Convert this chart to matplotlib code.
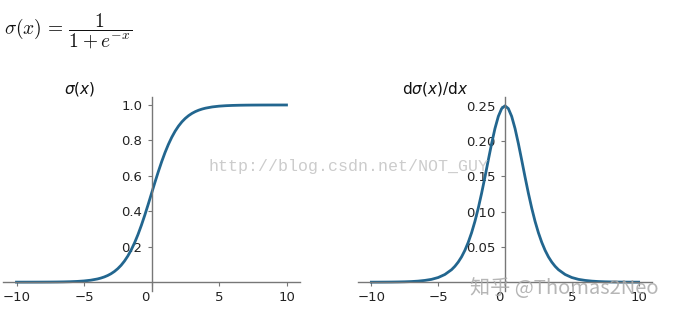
import matplotlib
matplotlib.use("Agg")
import matplotlib.pyplot as plt
from matplotlib.transforms import ScaledTranslation

# values
x_vals = [-10, -9.5, -9, -8.5, -8, -7.5, -7, -6.5, -6, -5.5, -5, -4.5,
          -4, -3.75, -3.5, -3.25, -3, -2.75, -2.5, -2.25, -2, -1.75, -1.5, -1.25,
          -1, -0.75, -0.5, -0.25, 0, 0.25, 0.5, 0.75, 1, 1.25, 1.5, 1.75,
          2, 2.25, 2.5, 2.75, 3, 3.25, 3.5, 3.75, 4,
          4.5, 5, 5.5, 6, 6.5, 7, 7.5, 8, 8.5, 9, 9.5, 10]
sigma_vals = [0.00005, 0.00007, 0.00012, 0.0002, 0.00034, 0.00055, 0.0009, 0.0015, 0.0025, 0.0041, 0.0067, 0.011,
              0.018, 0.023, 0.0293, 0.0373, 0.0474, 0.0601, 0.0759, 0.0953, 0.1192, 0.148, 0.1824, 0.2227,
              0.2689, 0.3208, 0.3775, 0.4378, 0.5, 0.5622, 0.6225, 0.6792, 0.7311, 0.7773, 0.8176, 0.852,
              0.8808, 0.9047, 0.9241, 0.9399, 0.9526, 0.9627, 0.9707, 0.977, 0.982,
              0.989, 0.9933, 0.9959, 0.9975, 0.9985, 0.9991, 0.99945, 0.99966, 0.9998, 0.99988, 0.99993, 0.99995]
dsigma_vals = [0.00005, 0.00007, 0.00012, 0.0002, 0.00034, 0.00055, 0.0009, 0.0015, 0.0025, 0.004, 0.0066, 0.0109,
               0.0177, 0.0225, 0.0285, 0.0359, 0.0452, 0.0565, 0.0701, 0.0862, 0.105, 0.1261, 0.1491, 0.1731,
               0.1966, 0.2179, 0.235, 0.2461, 0.25, 0.2461, 0.235, 0.2179, 0.1966, 0.1731, 0.1491, 0.1261,
               0.105, 0.0862, 0.0701, 0.0565, 0.0452, 0.0359, 0.0285, 0.0225, 0.0177,
               0.0109, 0.0066, 0.004, 0.0025, 0.0015, 0.0009, 0.00055, 0.00034, 0.0002, 0.00012, 0.00007, 0.00005]

x_ticks = [-10, -5, 0, 5, 10]
left_yticks = [0.2, 0.4, 0.6, 0.8, 1.0]
right_yticks = [0.05, 0.10, 0.15, 0.20, 0.25]

line_color = "#22668f"

fig = plt.figure(figsize=(6.77, 3.13), dpi=100)

def style(ax, ylim, yticks, yfmt):
    ax.set_xlim(-11, 11)
    ax.set_ylim(*ylim)
    ax.spines["left"].set_position(("data", 0))
    ax.spines["bottom"].set_position(("data", 0))
    ax.spines["right"].set_visible(False)
    ax.spines["top"].set_visible(False)
    for s in ("left", "bottom"):
        ax.spines[s].set_color("#777777")
        ax.spines[s].set_linewidth(1.0)
    ax.set_xticks(x_ticks)
    ax.set_xticklabels([("%d" % t).replace("-", "\u2212") for t in x_ticks])
    ax.set_yticks(yticks)
    ax.set_yticklabels([yfmt % t for t in yticks])
    ax.tick_params(labelsize=9.5, colors="#777777", labelcolor="#222222", length=3)
    ax.xaxis.set_ticks_position("bottom")
    ax.yaxis.set_ticks_position("left")
    # shift the "0" tick label left as in the reference
    lbl = ax.get_xticklabels()[2]
    lbl.set_transform(lbl.get_transform() + ScaledTranslation(-6 / 100, 0, fig.dpi_scale_trans))

ax1 = fig.add_axes([3 / 677, 1 - 291 / 313, 297 / 677, 194 / 313])
ax1.plot(x_vals, sigma_vals, color=line_color, lw=2.0)
style(ax1, (-0.05, 1.045), left_yticks, "%.1f")

ax2 = fig.add_axes([358 / 677, 1 - 291 / 313, 294 / 677, 194 / 313])
ax2.plot(x_vals, dsigma_vals, color=line_color, lw=2.0)
style(ax2, (-0.0125, 0.2625), right_yticks, "%.2f")

fig.text(64 / 677, 1 - 93 / 313, r"$\sigma(x)$", fontsize=11, color="#111111")
fig.text(402 / 677, 1 - 93 / 313, r"d$\sigma(x)$/d$x$", fontsize=11, color="#111111")

fig.text(4 / 677, 1 - 31 / 313, r"$\sigma(x)\,=\,\dfrac{1}{1+e^{-x}}$", fontsize=14,
         math_fontfamily="cm", va="center", color="#111111")

fig.text(208 / 677, 1 - 166 / 313, "http://blog.csdn.net/NOT_GUY", fontsize=12,
         family="Liberation Mono", color="#cccccc", va="center")
fig.text(470 / 677, 1 - 289 / 313, "知乎 @Thomas2Neo", fontsize=14.5,
         family=["Noto Sans CJK SC", "DejaVu Sans"], color="#aaaaaa", va="center", alpha=0.85)

fig.savefig("out.png", dpi=100)
